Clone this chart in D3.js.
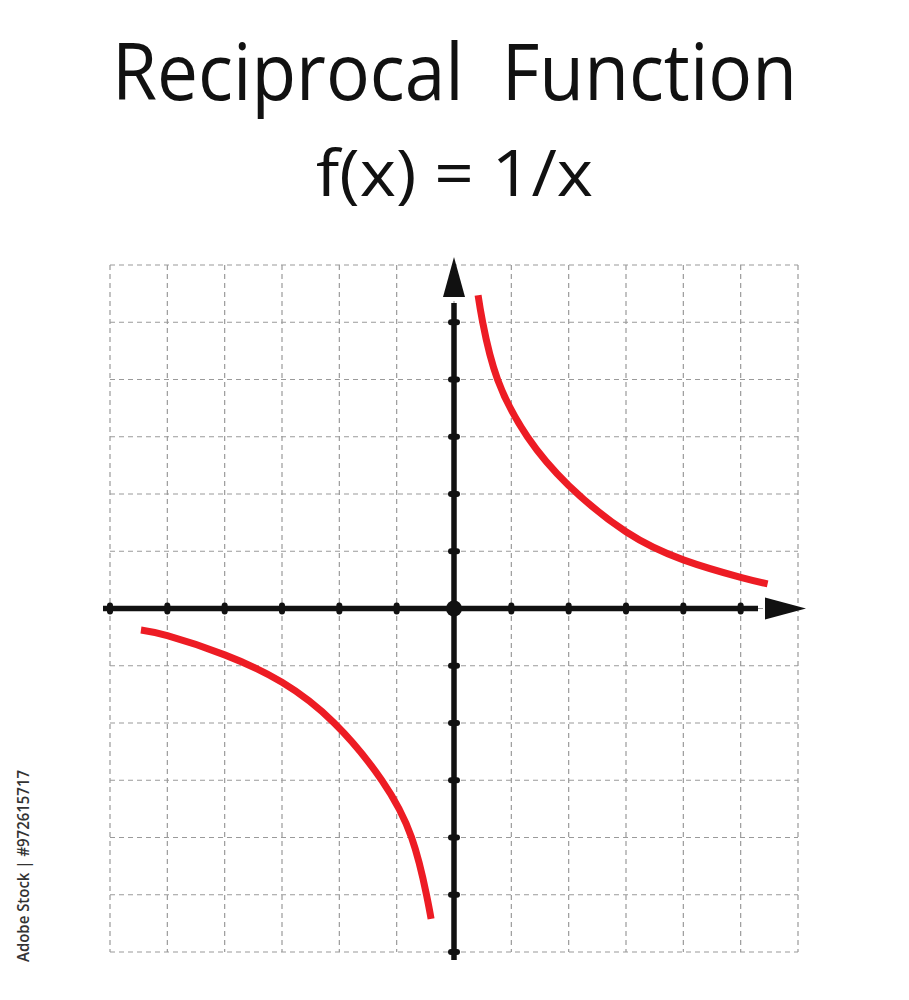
<!DOCTYPE html>
<html>
<head>
<meta charset="utf-8">
<script src="https://cdn.jsdelivr.net/npm/d3@7"></script>
<style>
  html, body { margin: 0; padding: 0; background: #fff; }
  svg { display: block; }
</style>
</head>
<body>
<svg id="chart" width="909" height="1000"></svg>
<script>
// ---- data ----
const titleText = "Reciprocal  Function";
const subtitleText = "f(x) = 1/x";
const watermarkText = "Adobe Stock | #972615717";
const gridValues = [-6, -5, -4, -3, -2, -1, 0, 1, 2, 3, 4, 5, 6];
const tickValues = [-6, -5, -4, -3, -2, -1, 1, 2, 3, 4, 5];
// positive branch (x, y)
const posX = [0.42, 0.50, 0.76, 1.28, 2.00, 3.00, 4.00, 5.00, 5.47];
const posY = [5.47, 5.00, 4.00, 3.00, 2.15, 1.34, 0.85, 0.545, 0.43];
// negative branch (x, y)
const negX = [-5.46, -5.00, -4.00, -3.00, -2.09, -1.26, -0.74, -0.48, -0.40];
const negY = [-0.375, -0.475, -0.81, -1.29, -2.00, -3.00, -4.00, -5.00, -5.42];

// ---- layout ----
const svg = d3.select("#chart");
const x = d3.scaleLinear().domain([-6, 6]).range([110, 798]);
const y = d3.scaleLinear().domain([-6, 6]).range([952, 265]);
const font = "'Open Sans', 'Noto Sans', sans-serif";

// title
svg.append("text")
  .attr("x", 112).attr("y", 100)
  .attr("font-family", font).attr("font-size", 78)
  .attr("textLength", 685).attr("lengthAdjust", "spacingAndGlyphs")
  .attr("fill", "#111")
  .style("white-space", "pre")
  .text(titleText);
svg.append("text")
  .attr("x", 316).attr("y", 196)
  .attr("font-family", font).attr("font-size", 64)
  .attr("textLength", 277).attr("lengthAdjust", "spacingAndGlyphs")
  .attr("fill", "#111")
  .text(subtitleText);

// grid
const grid = svg.append("g")
  .attr("stroke", "#9a9a9a").attr("stroke-width", 1.2)
  .attr("stroke-dasharray", "5,4").attr("fill", "none");
grid.selectAll("line.v").data(gridValues).join("line")
  .attr("class", "v")
  .attr("x1", d => x(d)).attr("x2", d => x(d))
  .attr("y1", y(6)).attr("y2", y(-6));
grid.selectAll("line.h").data(gridValues).join("line")
  .attr("class", "h")
  .attr("y1", d => y(d)).attr("y2", d => y(d))
  .attr("x1", x(-6)).attr("x2", x(6));

// axes
const axes = svg.append("g");
const x0 = x(0), y0 = y(0);
axes.append("line")
  .attr("x1", x(-6) - 7).attr("x2", x(6) - 40)
  .attr("y1", y0).attr("y2", y0)
  .attr("stroke", "#111").attr("stroke-width", 5.5);
axes.append("line")
  .attr("x1", x0).attr("x2", x0)
  .attr("y1", y(-6) + 8).attr("y2", y(6) + 38)
  .attr("stroke", "#111").attr("stroke-width", 5.5);
// arrowheads
axes.append("path")
  .attr("d", `M${x(6) - 33},${y0 - 11} L${x(6) + 8},${y0} L${x(6) - 33},${y0 + 11} Z`)
  .attr("fill", "#111");
axes.append("path")
  .attr("d", `M${x0 - 11},${y(6) + 32} L${x0},${y(6) - 8} L${x0 + 11},${y(6) + 32} Z`)
  .attr("fill", "#111");
// ticks
axes.selectAll("rect.xt").data(tickValues).join("rect")
  .attr("class", "xt")
  .attr("x", d => x(d) - 3).attr("y", y0 - 6)
  .attr("width", 6).attr("height", 12).attr("rx", 3)
  .attr("fill", "#111");
axes.selectAll("rect.yt").data(tickValues).join("rect")
  .attr("class", "yt")
  .attr("x", x0 - 6).attr("y", d => y(d) - 3)
  .attr("width", 12).attr("height", 6).attr("rx", 3)
  .attr("fill", "#111");
axes.append("circle").attr("cx", x0).attr("cy", y0).attr("r", 8).attr("fill", "#111");

// curves
const line = d3.line()
  .x(d => x(d[0])).y(d => y(d[1]))
  .curve(d3.curveNatural);
const branches = [d3.zip(posX, posY), d3.zip(negX, negY)];
svg.append("g").selectAll("path").data(branches).join("path")
  .attr("d", line)
  .attr("fill", "none")
  .attr("stroke", "#ed1c24").attr("stroke-width", 7);

// watermark
svg.append("text")
  .attr("transform", "translate(29,962) rotate(-90)")
  .attr("font-family", font).attr("font-size", 16)
  .attr("font-weight", 600)
  .attr("textLength", 192).attr("lengthAdjust", "spacingAndGlyphs")
  .attr("fill", "#333")
  .text(watermarkText);
</script>
</body>
</html>
